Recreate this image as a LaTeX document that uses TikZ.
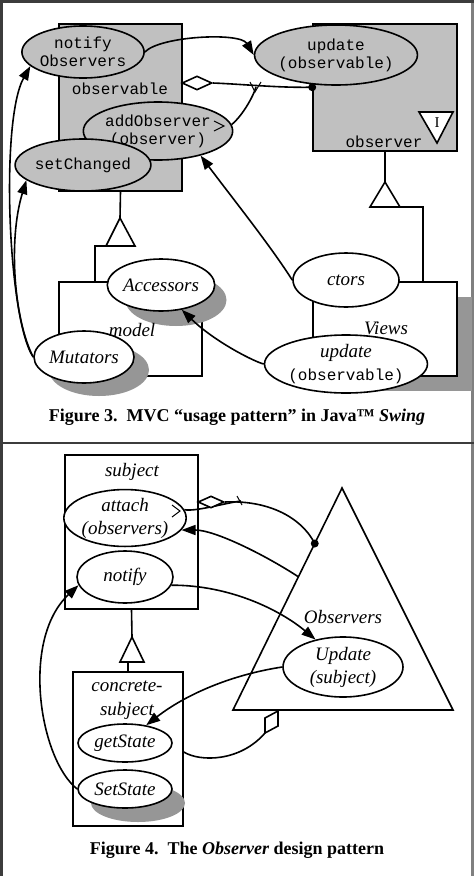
\documentclass[tikz,border=0pt]{standalone}
\usepackage{fontspec}
\setmainfont{Liberation Serif}
\setmonofont{Liberation Mono}
\usepackage{tikz}
\usetikzlibrary{shapes.geometric,arrows.meta,calc}
\definecolor{boxgray}{RGB}{192,192,192}
\definecolor{shadegray}{RGB}{150,150,150}
\definecolor{edgegray}{RGB}{60,60,60}
\newcommand{\codefont}{\fontsize{16}{18}\selectfont\ttfamily\upshape}
\newcommand{\rolefont}{\fontsize{19}{21}\selectfont\itshape}
\newcommand{\capfont}{\fontsize{18}{20}\selectfont\bfseries}

\begin{document}
\begin{tikzpicture}[x=1pt,y=-1pt,line width=1.6pt,
    method/.style={ellipse,draw,inner sep=0pt,align=center},
    classbox/.style={draw,inner sep=0pt},
    shadowblob/.style={ellipse,fill=shadegray,inner sep=0pt},
    call/.style={-{Triangle[length=14pt,width=10pt]}},
    txt/.style={inner sep=0pt,align=center}]
\useasboundingbox (0,0) rectangle (474,876);

% frame
\draw[line width=3pt,edgegray] (1.5,0) -- (1.5,876);
\draw[line width=3pt,gray] (472,0) -- (472,876);
\draw[line width=3pt,edgegray] (0,1.5) -- (474,1.5);
\draw[line width=2pt,edgegray] (0,443) -- (474,443);

% Figure 3: observable
\node[classbox,fill=boxgray,minimum width=123pt,minimum height=167pt] (observable) at (120.5,107.5) {};
\node[txt,font=\codefont] (observableLbl) at (120,89) {observable};
\node[method,fill=boxgray,minimum width=100pt,minimum height=52pt,font=\codefont] (notifyObs) at (83,52) {notify\\Observers};
\node[method,fill=boxgray,minimum width=114pt,minimum height=58pt,font=\codefont] (addObs) at (158,131) {addObserver\\(observer)};
\node[method,fill=boxgray,minimum width=100pt,minimum height=52pt,font=\codefont] (setChanged) at (83,165) {setChanged};

% observer
\node[classbox,fill=boxgray,minimum width=144pt,minimum height=127pt] (observer) at (385,87.5) {};
\node[txt,font=\codefont] (observerLbl) at (384,142) {observer};
\draw[fill=white] (419,112) -- (453,112) -- (437,143) -- cycle;
\node[txt,font=\fontsize{15}{15}\selectfont] (iface) at (437,123) {I};
\node[method,fill=boxgray,minimum width=120pt,minimum height=60pt,font=\codefont] (update) at (336,55) {update\\(observable)};

% generalisations
\draw (observable.south) -- (120,218);
\draw[fill=white] (120,218) -- (106,246) -- (135,246) -- cycle;
\draw (106,246) -- (95,246) -- (95,282);
\draw (observer.south) -- (385,182);
\draw[fill=white] (385,182) -- (370,207) -- (400,207) -- cycle;
\draw (400,207) -- (423,207) -- (423,282);

% model
\node[classbox,fill=white,minimum width=143pt,minimum height=94pt] (model) at (130.5,329) {};
\node[shadowblob,minimum width=101pt,minimum height=52pt] (accShadow) at (176,300) {};
\node[method,fill=white,minimum width=101pt,minimum height=52pt,font=\rolefont] (accessors) at (161,285) {Accessors};
\node[shadowblob,minimum width=100pt,minimum height=52pt] (mutShadow) at (99,370) {};
\node[method,fill=white,minimum width=100pt,minimum height=52pt,font=\rolefont] (mutators) at (84,357) {Mutators};
\node[txt,font=\rolefont] (modelLbl) at (132,330) {model};

% Views
\fill[shadegray] (328,297) rectangle (472,391);
\node[classbox,fill=white,minimum width=144pt,minimum height=94pt] (views) at (385,329) {};
\node[txt,font=\rolefont] (viewsLbl) at (386,328) {Views};
\node[method,fill=white,minimum width=106pt,minimum height=54pt,font=\rolefont] (ctors) at (346,280) {ctors};
\node[method,fill=white,minimum width=114pt,minimum height=58pt,font=\rolefont] (updateV) at (346,364) {update\\[2pt]{\codefont (observable)}};

% links
\draw[call] (notifyObs.east) .. controls (160,36) and (240,32) .. (update.west);
\coordinate (obsDot) at ($(observer.north west)+(0,64)$);
\coordinate (joinTop) at (256,87);
\draw (addObs.5) .. controls (240,118) and (252,100) .. (joinTop);
\draw[line width=1pt] (214,121) -- (224,126) -- (214,131);
\draw[line width=1pt] (250,82) -- (255,92) -- (261,82);
\node[diamond,draw,fill=white,inner sep=0pt,minimum width=30pt,minimum height=14pt] (aggrTop) at (197,83) {};
\draw (aggrTop.east) .. controls (240,84) and (280,88) .. (obsDot);
\fill (obsDot) circle (4pt);
\draw[call] (ctors.west) .. controls (270,245) and (230,195) .. (addObs.-30);
\draw[call] (updateV.west) .. controls (255,362) and (215,342) .. (accessors.-50);
\draw[call] (mutators.west) .. controls (8,320) and (0,120) .. (notifyObs.195);
\draw[call] (mutators.west) .. controls (14,320) and (8,240) .. (setChanged.195);

\node[txt,font=\capfont] (cap3) at (237,417) {Figure 3.\ \ MVC “usage pattern” in Java™ \textit{Swing}};

% Figure 4: subject
\node[classbox,fill=white,minimum width=133pt,minimum height=154pt] (subject) at (131.5,532) {};
\node[txt,font=\rolefont] (subjectLbl) at (132,472) {subject};
\node[method,fill=white,minimum width=96pt,minimum height=50pt,font=\rolefont] (attach) at (125,518) {attach\\[2pt](observers)};
\node[method,fill=white,minimum width=96pt,minimum height=52pt,font=\rolefont] (notify) at (125,577) {notify};

\draw (subject.south) -- (132,637);
\draw[fill=white] (132,637) -- (120,662) -- (144,662) -- cycle;
\draw (128,662) -- (128,672);

% concrete-subject
\node[classbox,fill=white,minimum width=110pt,minimum height=154pt] (concrete) at (128,749) {};
\node[txt,font=\rolefont] (concreteLbl) at (127,700) {concrete-\\[3pt]subject};
\node[method,fill=white,minimum width=94pt,minimum height=38pt,font=\rolefont] (getState) at (125,743) {getState};
\node[shadowblob,minimum width=94pt,minimum height=38pt] (setShadow) at (138,803) {};
\node[method,fill=white,minimum width=94pt,minimum height=38pt,font=\rolefont] (setState) at (125,789) {SetState};

% Observers
\coordinate (obsTop) at (342,488);
\coordinate (obsLeft) at (233,710);
\coordinate (obsRight) at (453,710);
\draw (obsTop) -- (obsLeft) -- (obsRight) -- cycle;
\node[txt,font=\rolefont] (observersLbl) at (343,617) {Observers};
\node[method,fill=white,minimum width=120pt,minimum height=60pt,font=\rolefont] (updateS) at (343,667) {Update\\[2pt](subject)};

% links
\coordinate (obsDotB) at ($(obsTop)!0.25!(obsLeft)$);
\coordinate (obsEdge) at ($(obsTop)!0.4!(obsLeft)$);
\coordinate (joinBot) at (241,501);
\draw (attach.8) .. controls (195,512) and (225,503) .. (joinBot);
\draw[line width=1pt] (172,505) -- (180,511) -- (172,517);
\draw[line width=1pt] (237,496) -- (242,505);
\node[diamond,draw,fill=white,inner sep=0pt,minimum width=26pt,minimum height=12pt] (aggrBot) at (211,502) {};
\draw (aggrBot.east) .. controls (265,500) and (300,515) .. (obsDotB);
\fill (obsDotB) circle (4pt);
\draw[call] (obsEdge) .. controls (265,555) and (215,530) .. (attach.-12);
\draw[call] (notify.-10) .. controls (230,585) and (280,610) .. (updateS.135);
\draw[call] (updateS.west) .. controls (230,675) and (185,695) .. (getState.40);
\draw[fill=white] (278,711) -- (278,726) -- (265,733) -- (265,718) -- cycle;
\coordinate (diaB) at (265,733);
\draw (diaB) .. controls (240,762) and (200,762) .. ($(concrete.east)+(0,3)$);
\draw[call] (setState.west) .. controls (40,760) and (20,640) .. (notify.190);

\node[txt,font=\capfont] (cap4) at (237,850) {Figure 4.\ \ The \textit{Observer} design pattern};

\end{tikzpicture}
\end{document}
